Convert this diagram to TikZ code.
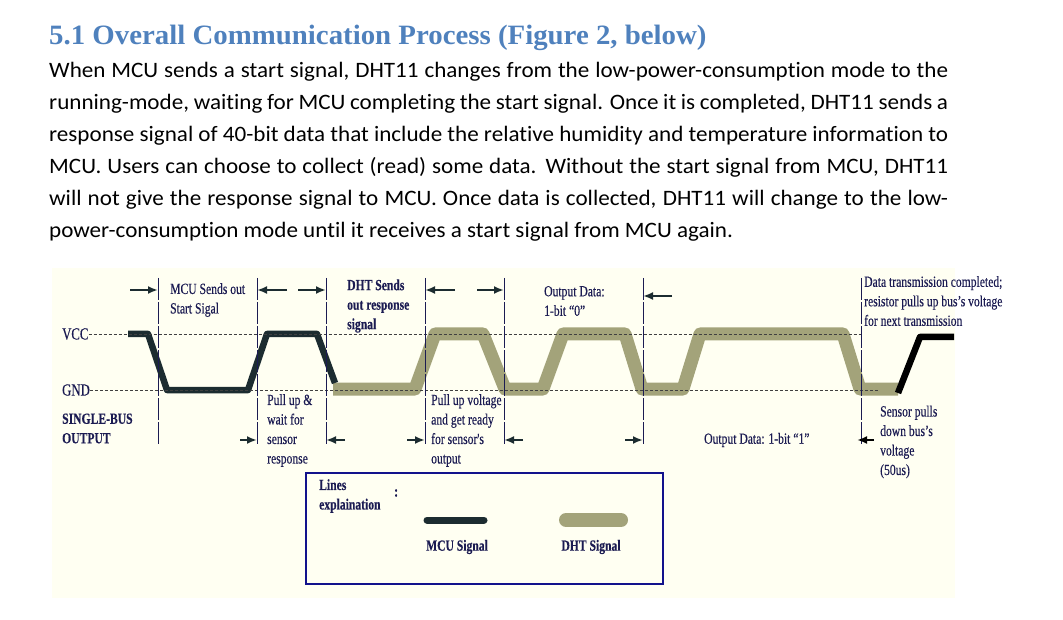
\documentclass[tikz,border=0pt]{standalone}
\usepackage{fontspec}
\usepackage{tikz}
\usetikzlibrary{arrows.meta}
\setmainfont[FakeStretch=1.05,Ligatures=NoCommon]{Carlito}
\newfontfamily\headfont[FakeStretch=1.03]{Liberation Serif}
\newfontfamily\diagfont[FakeStretch=0.75,FakeBold=0.3]{Liberation Serif}
\definecolor{headblue}{HTML}{4F81BD}
\definecolor{cream}{HTML}{FFFFF2}
\definecolor{inkblue}{HTML}{1B1B52}
\definecolor{mcucol}{HTML}{1C2C30}
\definecolor{dhtcol}{HTML}{A3A37A}
\definecolor{boxblue}{HTML}{12128C}
\newcommand{\fullline}[1]{\hbox to 899pt{#1}}
\tikzset{>=latex}
\tikzset{label/.style = {inner sep=0pt,anchor=west,align=left,text=inkblue,font=\diagfont\fontsize{15.5}{19.5}\selectfont}}
\tikzset{boldlabel/.style = {label,font=\diagfont\bfseries\fontsize{15.5}{19.5}\selectfont}}
\tikzset{railname/.style = {label,font=\diagfont\fontsize{17}{19}\selectfont}}
\tikzset{rail/.style = {densely dashed,line width=0.6pt,black!75}}
\tikzset{bound/.style = {dash pattern=on 22pt off 2pt,line width=0.6pt,inkblue}}
\tikzset{edge/.style = {-{Latex[length=10pt,width=8pt]},line width=2pt,mcucol}}
\tikzset{mcu/.style = {line width=6.5pt,mcucol,line join=round}}
\tikzset{dht/.style = {line width=13pt,dhtcol,line join=round}}
\begin{document}
\begin{tikzpicture}[x=1pt,y=-1pt]
    \useasboundingbox (0,0) rectangle (1063,620);
    \fill[cream] (52,268) rectangle (955,598);

    % Text
    \node[inner sep=0pt,anchor=west,text=headblue,font=\headfont\bfseries\fontsize{28}{32}\selectfont] (title) at (49,38) {5.1 Overall Communication Process (Figure 2, below)};
    \node[inner sep=0pt,anchor=north west,align=left,font=\fontsize{22}{32}\selectfont] (para) at (49,62.5) {%
        \fullline{When MCU sends a start signal, DHT11 changes from the low-power-consumption mode to the}\\
        \fullline{running-mode, waiting for MCU completing the start signal. Once it is completed, DHT11 sends a}\\
        \fullline{response signal of 40-bit data that include the relative humidity and temperature information to}\\
        \fullline{MCU. Users can choose to collect (read) some data. Without the start signal from MCU, DHT11}\\
        \fullline{will not give the response signal to MCU. Once data is collected, DHT11 will change to the low-}\\
        power-consumption mode until it receives a start signal from MCU again.};

    % Labels
    \node[railname] (vcc) at (62,334) {VCC};
    \node[railname] (gnd) at (62,390) {GND};
    \node[boldlabel] (bus) at (62,428.5) {SINGLE-BUS\\OUTPUT};
    \node[label] (start) at (170,300) {MCU Sends out\\Start Sigal};
    \node[boldlabel] (resp) at (347,306) {DHT Sends\\out response\\signal};
    \node[label] (bit0) at (544,301) {Output Data:\\1-bit “0”};
    \node[label] (done) at (864,301) {Data transmission completed;\\resistor pulls up bus’s voltage\\for next transmission};
    \node[label] (wait) at (267,430.5) {Pull up \&\\wait for\\sensor\\response};
    \node[label] (ready) at (431,430.5) {Pull up voltage\\and get ready\\for sensor's\\output};
    \node[label] (bit1) at (704,440) {Output Data: 1-bit “1”};
    \node[label] (pulls) at (880,442) {Sensor pulls\\down bus’s\\voltage\\(50us)};

    % Coordinates
    \foreach \name/\x in {a/158,b/257,c/326,d/425,e/504,f/643,g/861} {
        \coordinate (top\name) at (\x,278);
        \coordinate (bot\name) at (\x,445);
    }
    \coordinate (vccend) at (862,334);
    \coordinate (gndend) at (878,390);

    % Signals
    \draw[dht] (333,389) -- (415,389) -- (435,334) -- (483,334) -- (505,389) -- (543,389) -- (563,334) -- (625,334) -- (642,389) -- (683,389) -- (700,334) -- (843,334) -- (860,389) -- (898,389);
    \draw[mcu] (128,334) -- (148,334) -- (167,390) -- (248,390) -- (267,334) -- (317,334) -- (335,383);
    \draw[mcu,black] (898,393) -- (920,337) -- (954,337);

    % Rails and boundaries
    \draw[rail] (vcc.east) -- (vccend);
    \draw[rail] (gnd.east) -- (gndend);
    \foreach \name in {a,b,c,d,e,f,g}
        \draw[bound] (top\name) -- (bot\name);

    % Arrows
    \foreach \name/\x/\y in {a/130/290,b/287/290,c/298/290,d/455/290,e/477/290,f/672/296,b/240/440,c/345/440,d/407/440,e/523/440,f/625/440} {
        \coordinate (tail) at (\x,\y);
        \draw[edge] (tail) -- (tail -| top\name);
    }
    \coordinate (tailg) at (874,440);
    \coordinate (tipg) at (857,440);
    \draw[edge,black] (tailg) -- (tipg);

    % Legend
    \node[draw=boxblue,line width=2pt,minimum width=357pt,minimum height=111pt,inner sep=0pt] (legend) at (484.5,528.5) {};
    \node[boldlabel] (lines) at (319,496) {Lines\\explaination};
    \node[boldlabel] (colon) at (394,493) {:};
    \coordinate (mcua) at (427,520);
    \coordinate (mcub) at (484,520);
    \coordinate (dhta) at (566,520);
    \coordinate (dhtb) at (621,520);
    \draw[mcu,line width=7pt,line cap=round] (mcua) -- (mcub);
    \draw[dht,line width=14pt,line cap=round] (dhta) -- (dhtb);
    \node[boldlabel,anchor=center] (mculabel) at (457,547) {MCU Signal};
    \node[boldlabel,anchor=center] (dhtlabel) at (591,547) {DHT Signal};
\end{tikzpicture}
\end{document}
